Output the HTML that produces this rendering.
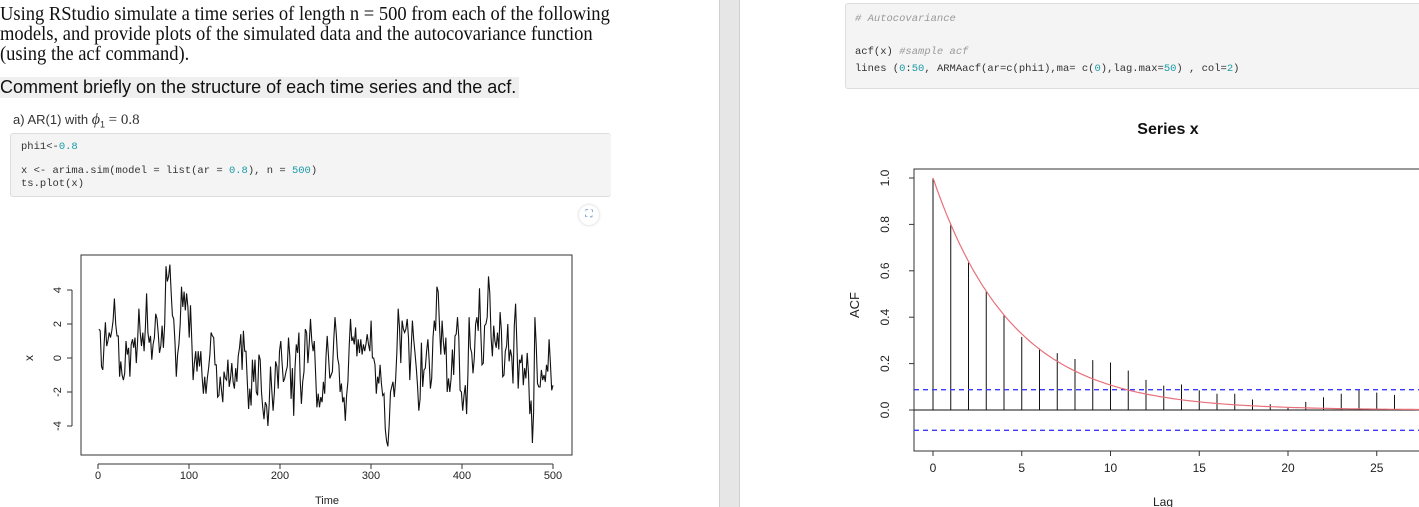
<!DOCTYPE html>
<html><head><meta charset="utf-8"><style>
body{margin:0;width:1419px;height:507px;overflow:hidden;background:#fff;position:relative;font-family:"Liberation Sans",sans-serif}
.a{position:absolute}
.mono{font-family:"Liberation Mono",monospace;font-size:10.5px;color:#333;white-space:pre}
.num{color:#1a9ba6}
.cm{color:#999;font-style:italic}
</style></head><body>
<div class="a" style="left:0;top:5px;font-family:'Liberation Serif',serif;font-size:19.5px;line-height:20px;color:#111;transform:scaleX(0.95);transform-origin:0 0;white-space:nowrap">Using RStudio simulate a time series of length n = 500 from each of the following<br>models, and provide plots of the simulated data and the autocovariance function<br>(using the acf command).</div>
<div class="a" style="left:0;top:77px;padding-right:3px;height:21px;background:#efefef;font-size:18px;line-height:21px;color:#111;white-space:nowrap">Comment briefly on the structure of each time series and the acf.</div>
<div class="a" style="left:13px;top:111px;font-size:13px;color:#333">a) AR(1) with <i style="font-family:'Liberation Serif',serif;font-size:16px">ϕ</i><sub style="font-size:9px">1</sub> <span style="font-family:'Liberation Serif',serif;font-size:15px">= 0.8</span></div>
<div class="a" style="left:10px;top:133px;width:600px;height:62px;background:#f4f4f4;border:1px solid #ddd;border-right:none;border-radius:3px">
<div class="a mono" style="left:10px;top:7px">phi1&lt;-<span class="num">0.8</span></div>
<div class="a mono" style="left:10px;top:31px">x &lt;- arima.sim(model = list(ar = <span class="num">0.8</span>), n = <span class="num">500</span>)</div>
<div class="a mono" style="left:10px;top:44px">ts.plot(x)</div>
</div>
<div class="a" style="left:579px;top:205px;width:20px;height:20px;border-radius:10px;background:#fff;box-shadow:0 0 3px #ccc;color:#4a7cc0;font-size:10px;text-align:center;line-height:20px">⛶</div>
<div class="a" style="left:719px;top:0;width:19px;height:507px;background:#e6e6e6;border-left:1px solid #d0d0d0;border-right:1px solid #d0d0d0"></div>
<div class="a" style="left:845px;top:3px;width:580px;height:84px;background:#f4f4f4;border:1px solid #ddd;border-radius:3px">
<div class="a mono cm" style="left:9px;top:9px"># Autocovariance</div>
<div class="a mono" style="left:9px;top:42px">acf(x) <span class="cm">#sample acf</span></div>
<div class="a mono" style="left:9px;top:59px">lines (<span class="num">0</span>:<span class="num">50</span>, ARMAacf(ar=c(phi1),ma= c(<span class="num">0</span>),lag.max=<span class="num">50</span>) , col=<span class="num">2</span>)</div>
</div>
<svg class="a" style="left:0;top:0" width="1419" height="507" id="svg"></svg>
<script>
const tsValues=[1.7,1.6,-0.5,-0.7,0.8,2.1,0.7,1.0,1.5,1.2,1.6,2.2,3.5,2.0,1.3,1.3,-1.1,-0.2,-1.0,-1.3,-0.9,1.0,0.2,0.6,-1.1,0.8,1.1,0.6,1.2,-0.3,1.0,2.9,1.5,0.7,1.5,0.4,1.8,3.8,1.5,0.9,1.3,-0.1,0.8,1.2,2.6,2.3,1.4,0.3,0.7,1.9,0.6,2.0,5.4,4.5,4.8,5.5,3.8,2.5,2.3,0.9,-1.1,0.2,0.8,2.0,4.2,3.0,3.9,2.8,3.8,3.0,1.2,3.1,1.0,-1.3,-0.3,0.4,-0.8,0.4,-0.5,0.4,-1.1,-2.1,-1.1,-2.1,-1.2,-0.6,0.2,1.5,1.3,1.2,-0.4,-0.4,-2.3,-2.2,-1.1,-1.9,-2.6,-0.8,-1.2,-1.3,-0.1,-1.7,-1.2,-0.3,-1.4,-1.8,-0.6,-1.4,0.1,0.6,1.4,-0.7,1.6,0.4,0.4,-1.4,-3.0,-1.8,-2.8,-0.1,-1.4,-0.1,-2.0,-2.2,0.2,-0.1,-2.0,-2.9,-3.6,-2.6,-2.8,-4.0,-2.7,-0.5,-1.9,-3.1,-2.0,-0.2,-0.5,-1.8,0.4,1.0,-0.3,-1.4,-1.2,-0.8,-0.5,1.2,0.1,-2.4,-0.6,-3.4,-0.6,0.8,0.3,1.5,-1.3,-2.7,-1.4,-0.8,1.7,1.5,-0.3,0.8,2.3,1.0,0.4,1.0,-0.9,-2.9,-2.1,-2.9,-2.3,-2.6,-1.4,-2.1,0.1,1.3,0.1,-1.2,-1.0,-0.8,1.0,2.4,1.4,0.0,-0.4,-2.0,-1.5,-2.6,-2.3,-3.7,-2.2,-1.4,0.7,2.3,1.0,1.2,0.8,1.8,0.1,1.1,0.3,1.1,0.2,0.8,0.4,0.8,1.4,0.8,0.4,2.2,0.0,0.0,-0.4,-2.1,-1.1,-1.5,-0.4,-1.5,-2.2,-2.1,-4.2,-4.9,-5.2,-3.9,-2.0,-1.7,-1.4,-2.3,-1.3,0.4,2.9,1.8,-0.3,2.2,1.7,1.5,1.7,2.3,1.2,-1.3,0.4,2.2,1.1,0.3,-0.6,-1.6,-3.1,-2.4,0.9,-1.7,-0.7,-0.6,0.4,1.1,-0.2,-1.8,-1.2,1.2,2.2,1.6,4.2,3.9,1.9,0.2,2.2,1.0,0.2,1.2,-2.0,-1.2,-2.0,-1.2,0.5,-1.0,1.3,1.4,2.4,1.2,-1.9,-2.0,-3.1,-2.2,-1.6,-3.3,-1.0,2.4,0.6,0.3,-0.9,0.0,2.0,2.4,1.6,4.1,1.5,-0.4,-0.3,1.9,2.0,2.4,4.8,3.8,1.2,0.1,1.9,1.0,0.6,1.5,0.5,2.7,1.6,-1.1,-1.0,0.4,0.7,2.0,-0.2,0.5,0.1,-1.5,1.9,3.2,0.8,-1.8,-0.1,-0.3,0.2,-1.6,-0.6,-1.2,0.3,-0.9,-3.3,-2.5,-5.0,-3.2,2.4,0.8,-1.5,-1.7,-1.7,-0.7,-1.3,-1.0,-1.4,-0.4,-0.8,1.1,-0.3,-1.9,-1.6];
const tsXTicks=[0,100,200,300,400,500];
const tsYTicks=[-4,-2,0,2,4];
const acfLags=[0,1,2,3,4,5,6,7,8,9,10,11,12,13,14,15,16,17,18,19,20,21,22,23,24,25,26];
const acfValues=[1,0.80,0.635,0.51,0.41,0.315,0.265,0.245,0.22,0.215,0.205,0.17,0.13,0.105,0.11,0.085,0.07,0.07,0.045,0.025,0.01,0.035,0.055,0.07,0.085,0.075,0.065];
const acfPhi=0.8;
const acfCI=0.0877;
const acfXTicks=[0,5,10,15,20,25];
const acfYTicks=[0,0.2,0.4,0.6,0.8,1.0];
const NS='http://www.w3.org/2000/svg';
const svg=document.getElementById('svg');
function mk(t,a,p){const e=document.createElementNS(NS,t);for(const k in a)e.setAttribute(k,a[k]);(p||svg).appendChild(e);return e;}
const tx=t=>98+(t-0)*(553-98)/500;
const ty=v=>358-v*17;
let r=mk('rect',{x:81,y:255,width:491,height:200,fill:'none',stroke:'#333','stroke-width':1});


let pts=tsValues.map((v,i)=>tx(1+i*499/(tsValues.length-1)).toFixed(1)+','+ty(v).toFixed(1)).join(' ');
let pl=mk('polyline',{points:pts,fill:'none',stroke:'#111','stroke-width':1.1});


mk('line',{x1:tx(0),x2:tx(500),y1:464,y2:464,stroke:'#333'});
tsXTicks.forEach(t=>{mk('line',{x1:tx(t),x2:tx(t),y1:464,y2:469,stroke:'#333'});
let l=mk('text',{x:tx(t),y:479,'font-size':11,'text-anchor':'middle',fill:'#222'});l.textContent=t;

});
mk('line',{x1:72,x2:72,y1:ty(-4),y2:ty(4),stroke:'#333'});
tsYTicks.forEach(v=>{mk('line',{x1:67,x2:72,y1:ty(v),y2:ty(v),stroke:'#333'});
let l=mk('text',{x:61,y:ty(v),'font-size':11,'text-anchor':'middle',fill:'#222',transform:`rotate(-90 61 ${ty(v)})`});l.textContent=v;

});
let t1=mk('text',{x:327,y:504,'font-size':11,'text-anchor':'middle',fill:'#222'});t1.textContent='Time';


let t2=mk('text',{x:33,y:358,'font-size':12,'text-anchor':'middle',fill:'#222',transform:'rotate(-90 33 358)'});t2.textContent='x';


const ax=k=>933+k*17.75;
const ay=v=>410-v*232;
let r2=mk('rect',{x:914,y:169,width:520,height:282,fill:'none',stroke:'#333'});


mk('line',{x1:914,x2:1419,y1:ay(0),y2:ay(0),stroke:'#111'});
acfLags.forEach((k,i)=>{let b=mk('line',{x1:ax(k),x2:ax(k),y1:ay(0),y2:ay(acfValues[i]),stroke:'#111','stroke-width':1});

});
[acfCI,-acfCI].forEach(c=>{let d=mk('line',{x1:914,x2:1419,y1:ay(c),y2:ay(c),stroke:'#3b3bff','stroke-dasharray':'5,4','stroke-width':1.4});

});
let cp=[];for(let k=0;k<=28;k+=0.25)cp.push(ax(k).toFixed(1)+','+ay(Math.pow(acfPhi,k)).toFixed(1));
let cl=mk('polyline',{points:cp.join(' '),fill:'none',stroke:'#e8707a','stroke-width':1.2});


acfXTicks.forEach(k=>{mk('line',{x1:ax(k),x2:ax(k),y1:451,y2:456,stroke:'#333'});
let l=mk('text',{x:ax(k),y:472,'font-size':12,'text-anchor':'middle',fill:'#222'});l.textContent=k;

});
mk('line',{x1:914,x2:914,y1:ay(0),y2:ay(1),stroke:'#333'});
acfYTicks.forEach(v=>{mk('line',{x1:909,x2:914,y1:ay(v),y2:ay(v),stroke:'#333'});
let l=mk('text',{x:889,y:ay(v),'font-size':12,'text-anchor':'middle',fill:'#222',transform:`rotate(-90 889 ${ay(v)})`});l.textContent=v.toFixed(1);

});
let t3=mk('text',{x:1163,y:506,'font-size':12,'text-anchor':'middle',fill:'#222'});t3.textContent='Lag';


let t4=mk('text',{x:859,y:305,'font-size':13,'text-anchor':'middle',fill:'#222',transform:'rotate(-90 859 305)'});t4.textContent='ACF';


let t5=mk('text',{x:1168,y:134,'font-size':16,'font-weight':'bold','text-anchor':'middle',fill:'#111'});t5.textContent='Series  x';


</script>
</body></html>
